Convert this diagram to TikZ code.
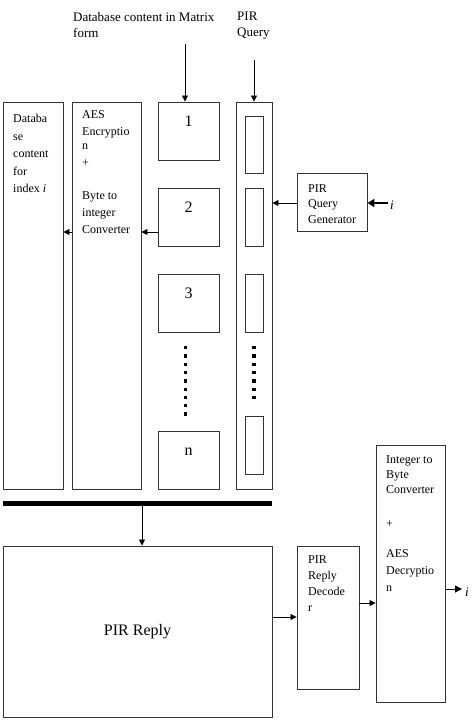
\documentclass[tikz,border=0pt]{standalone}
\usepackage{fontspec}
\setmainfont{Liberation Serif}
\usetikzlibrary{arrows.meta}

\tikzset{
    blk/.style={draw=black!80, line width=0.9pt, inner sep=0pt},
    lbl/.style={anchor=north west, align=left, inner sep=0pt, font=\fontsize{12}{#1}\selectfont},
    lbl/.default=17,
    num/.style={anchor=base, inner sep=0pt, font=\fontsize{16}{19}\selectfont},
    arr/.style={-{Triangle[length=6pt,width=6pt]}, line width=0.8pt},
    fat/.style={-{Triangle[length=7pt,width=8pt]}, line width=2.6pt},
    dots/.style={line width=3.3pt, dash pattern=on 3.3pt off 5pt},
}

\begin{document}
\begin{tikzpicture}[x=1pt,y=-1pt]
    \useasboundingbox (0,0) rectangle (474,721);

    \node[lbl, font=\fontsize{13}{16}\selectfont] (mtxlbl) at (73,12) {Database content in Matrix\\form};
    \node[lbl, font=\fontsize{13}{16}\selectfont] (qlbl) at (237,12) {PIR\\Query};

    \node[blk, minimum width=60pt, minimum height=387pt] (db) at (33,295.5) {};
    \node[blk, minimum width=69pt, minimum height=387pt] (aes) at (106.5,295.5) {};
    \node[lbl=17.5] (dbtxt) at (13,114) {Databa\\se\\content\\for\\index \textit{i}};
    \node[lbl] (aestxt) at (82,110) {AES\\Encryptio\\[-3pt]n\\+\\[16pt]Byte to\\integer\\Converter};

    % matrix column
    \node[blk, minimum width=61pt, minimum height=58pt] (m1) at (188.5,131) {};
    \node[blk, minimum width=61pt, minimum height=58pt] (m2) at (188.5,217) {};
    \node[blk, minimum width=61pt, minimum height=58pt] (m3) at (188.5,303) {};
    \node[blk, minimum width=61pt, minimum height=58pt] (mn) at (188.5,460) {};
    \node[num] (n1) at ([yshift=-25pt]m1.north) {1};
    \node[num] (n2) at ([yshift=-25pt]m2.north) {2};
    \node[num] (n3) at ([yshift=-25pt]m3.north) {3};
    \node[num] (nn) at ([yshift=-25pt]mn.north) {n};
    \draw[dots] (185.5,346) -- (185.5,416);

    % query column
    \node[blk, minimum width=36pt, minimum height=387pt] (q) at (254,295.5) {};
    \node[blk, minimum width=18pt, minimum height=57pt] (q1) at (254,144.5) {};
    \node[blk, minimum width=18pt, minimum height=58pt] (q2) at (254,217) {};
    \node[blk, minimum width=18pt, minimum height=58pt] (q3) at (254,303) {};
    \node[blk, minimum width=18pt, minimum height=58pt] (q4) at (254,445) {};
    \draw[dots] (254,346) -- (254,403);

    \node[blk, minimum width=70pt, minimum height=58pt] (gen) at (332,202) {};
    \node[lbl=15.5] (gentxt) at (308,184) {PIR\\Query\\Generator};
    \node[anchor=west, inner sep=0pt, font=\fontsize{13}{15}\selectfont\itshape] (iq) at (390,205) {i};

    \node[fill=black, inner sep=0pt, minimum width=269pt, minimum height=5pt] (bar) at (137.5,503) {};

    \node[blk, minimum width=269pt, minimum height=171pt, font=\fontsize{16}{19}\selectfont] (reply) at (137.5,631.5) {PIR Reply};
    \node[blk, minimum width=62pt, minimum height=143pt] (dec) at (328,617.5) {};
    \node[lbl=16] (dectxt) at (308,555) {PIR\\Reply\\Decode\\r};
    \node[blk, minimum width=69pt, minimum height=257pt] (fin) at (410.5,573.5) {};
    \node[lbl=15] (fintxt) at (386,455) {Integer to\\Byte\\Converter\\[19pt]+\\[15pt]AES\\[2pt]Decryptio\\[2pt]n};
    \node[anchor=west, inner sep=0pt, font=\fontsize{13}{15}\selectfont\itshape] (iout) at (465,592) {i};

    % connectors
    \coordinate (min) at (185,44);
    \coordinate (qin) at (254,60);
    \draw[arr] (min) -- (min |- m1.north);
    \draw[arr] (qin) -- (q.north);
    \coordinate (m2out) at ([yshift=-15pt]m2.west);
    \draw[arr] (m2out) -- (m2out -| aes.east);
    \draw[arr] (m2out -| aes.west) -- (m2out -| db.east);
    \coordinate (genout) at ([yshift=-1pt]gen.west);
    \draw[arr] (genout) -- (genout -| q.east);
    \coordinate (iin) at (388,203);
    \draw[fat] (iin) -- (iin -| gen.east);
    \coordinate (bt) at ([xshift=4.5pt]bar.south);
    \draw[arr] (bt) -- (bt |- reply.north);
    \coordinate (rout) at ([yshift=14.5pt]reply.east);
    \draw[arr] (rout) -- (rout -| dec.west);
    \coordinate (dout) at ([yshift=14.5pt]dec.east);
    \draw[arr] (dout) -- (dout -| fin.west);
    \coordinate (fout) at ([yshift=-15.5pt]fin.east);
    \coordinate (fend) at (462,589);
    \draw[arr, -{Triangle[length=7pt,width=7pt]}, line width=1pt] (fout) -- (fend);
\end{tikzpicture}
\end{document}
